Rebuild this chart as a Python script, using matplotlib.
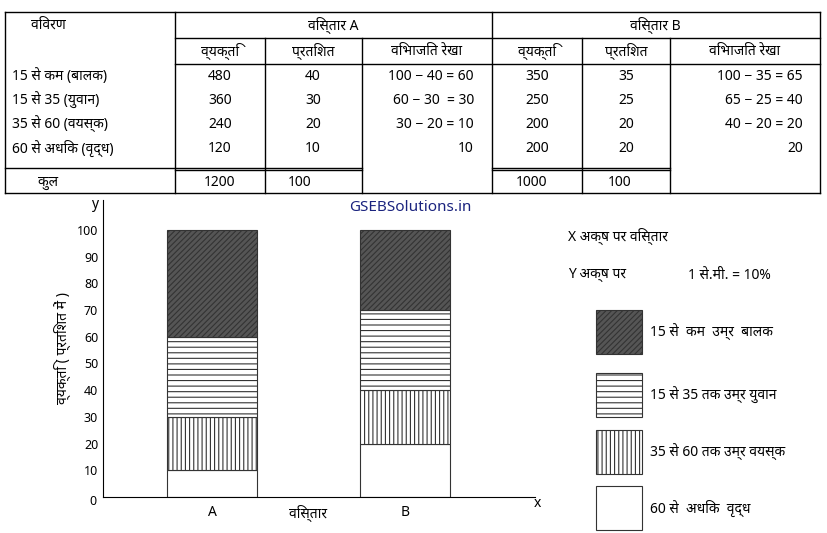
import matplotlib
matplotlib.use("Agg")
import matplotlib.pyplot as plt
from matplotlib.patches import Rectangle

plt.rcParams["font.family"] = ["Noto Sans", "DejaVu Sans"]
plt.rcParams["hatch.linewidth"] = 0.8

# table data
age_groups = ["15 से कम (बालक)", "15 से 35 (युवान)", "35 से 60 (वयस्क)", "60 से अधिक (वृद्ध)"]
persons_a = [480, 360, 240, 120]
percent_a = [40, 30, 20, 10]
divide_a = ["100 − 40 = 60", "60 − 30  = 30", "30 − 20 = 10", "10"]
persons_b = [350, 250, 200, 200]
percent_b = [35, 25, 20, 20]
divide_b = ["100 − 35 = 65", "65 − 25 = 40", "40 − 20 = 20", "20"]

# chart data (percent, bottom group first)
bars = ["A", "B"]
legend_labels = ["15 से  कम  उम्र  बालक", "15 से 35 तक उम्र युवान",
                 "35 से 60 तक उम्र वयस्क", "60 से  अधिक  वृद्ध"]
segments_a = [10, 20, 30, 40]   # वृद्ध, वयस्क, युवान, बालक
segments_b = [20, 20, 30, 30]
styles = [("white", None), ("white", "||||"), ("white", "---"), ("#555555", "//////")]

W, H = 828, 533
fig = plt.figure(figsize=(W / 100, H / 100), dpi=100)
bg = fig.add_axes([0, 0, 1, 1])
bg.set_xlim(0, W); bg.set_ylim(H, 0); bg.axis("off")

# ---- table ----
cols = [5, 175, 265, 362, 492, 582, 670, 820]
top, r1, r2, bot = 12, 38, 64, 193
rows_y = [76, 100, 124, 148]
tot_y = 182
lw = 1
bg.plot([5, 820], [top, top], "k", lw=lw)
bg.plot([5, 820], [bot, bot], "k", lw=lw)
bg.plot([175, 820], [r1, r1], "k", lw=lw)
bg.plot([175, 820], [r2, r2], "k", lw=lw)
bg.plot([5, 362], [168, 168], "k", lw=lw)
bg.plot([492, 670], [168, 168], "k", lw=lw)
bg.plot([175, 362], [170, 170], "k", lw=lw)
bg.plot([492, 670], [170, 170], "k", lw=lw)
for x in [5, 175, 492, 820]:
    bg.plot([x, x], [top, bot], "k", lw=lw)
for x in [265, 362, 582, 670]:
    bg.plot([x, x], [r1, bot], "k", lw=lw)

fs = 10
bg.text(48, 25, "विवरण", fontsize=fs, ha="center", va="center")
bg.text(333, 25, "विस्तार A", fontsize=fs, ha="center", va="center")
bg.text(655, 25, "विस्तार B", fontsize=fs, ha="center", va="center")
heads = ["व्यक्ति", "प्रतिशत", "विभाजित रेखा"]
for i, h in enumerate(heads * 2):
    bg.text((cols[i + 1] + cols[i + 2]) / 2, 51, h, fontsize=fs, ha="center", va="center")
for i, y in enumerate(rows_y):
    bg.text(12, y, age_groups[i], fontsize=fs, va="center")
    bg.text(220, y, persons_a[i], fontsize=fs, ha="center", va="center")
    bg.text(313, y, percent_a[i], fontsize=fs, ha="center", va="center")
    bg.text(474, y, divide_a[i], fontsize=fs, ha="right", va="center")
    bg.text(537, y, persons_b[i], fontsize=fs, ha="center", va="center")
    bg.text(626, y, percent_b[i], fontsize=fs, ha="center", va="center")
    bg.text(803, y, divide_b[i], fontsize=fs, ha="right", va="center")
bg.text(48, tot_y, "कुल", fontsize=fs, ha="center", va="center", weight="bold")
bg.text(220, tot_y, sum(persons_a), fontsize=fs, ha="center", va="center", weight="bold")
bg.text(300, tot_y, sum(percent_a), fontsize=fs, ha="center", va="center", weight="bold")
bg.text(532, tot_y, sum(persons_b), fontsize=fs, ha="center", va="center", weight="bold")
bg.text(620, tot_y, sum(percent_b), fontsize=fs, ha="center", va="center", weight="bold")

# ---- chart ----
x0, x1, y0, y100 = 103, 535, 497, 230
ax = fig.add_axes([x0 / W, (H - y0) / H, (x1 - x0) / W, (y0 - 200) / H])
ax.patch.set_alpha(0)
ax.set_xlim(0, 4.32)
ax.set_ylim(0, (y0 - 200) / ((y0 - y100) / 100))
for s in ["top", "right"]:
    ax.spines[s].set_visible(False)
ax.set_yticks(range(10, 101, 10))
ax.set_xticks([])
ax.tick_params(axis="y", labelsize=9, length=0)
ax.set_ylabel("व्यक्ति ( प्रतिशत में )", fontsize=10)
centers = [1.09, 3.02]
for c, segs in zip(centers, [segments_a, segments_b]):
    b = 0
    for v, (fc, ht) in zip(segs, styles):
        ax.bar(c, v, bottom=b, width=0.9, facecolor=fc, hatch=ht,
               edgecolor="#333333", linewidth=0.8)
        b += v
for c, name in zip(centers, bars):
    ax.text(c, -3, name, ha="center", va="top", fontsize=10, weight="bold")
ax.text(2.05, -3, "विस्तार", ha="center", va="top", fontsize=10)
fig.text(410 / W, 1 - 207 / H, "GSEBSolutions.in", fontsize=11, ha="center", va="center",
         weight="bold", color="#1a237e", zorder=10)
bg.text(97, 505, "0", fontsize=9, ha="right")
bg.text(95, 208, "y", fontsize=10, ha="center")
bg.text(537, 507, "x", fontsize=10, ha="center")

# ---- legend / scale ----
bg.text(568, 236, "X अक्ष पर विस्तार", fontsize=10, va="center")
bg.text(568, 275, "Y अक्ष पर", fontsize=10, va="center")
bg.text(688, 275, "1 से.मी. = 10%", fontsize=10, va="center")
for k, y in enumerate([310, 373, 430, 486]):
    fc, ht = styles[::-1][k]
    bg.add_patch(Rectangle((596, y), 46, 44, facecolor=fc, hatch=ht,
                           edgecolor="#333333", lw=0.8))
    bg.text(650, y + 22, legend_labels[k], fontsize=10, va="center")

fig.savefig("out.png", dpi=100)
